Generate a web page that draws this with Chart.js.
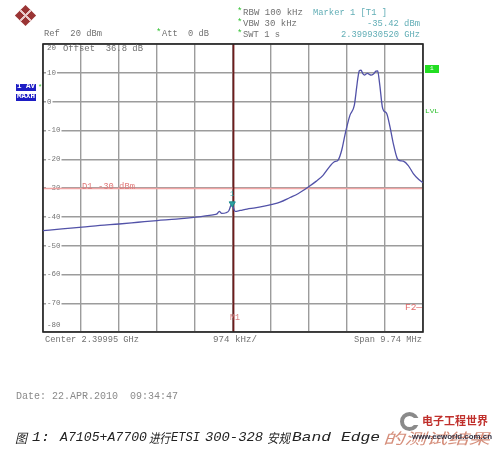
<!DOCTYPE html>
<html><head><meta charset="utf-8">
<script src="https://cdn.jsdelivr.net/npm/chart.js@4"></script>
<style>
html,body{margin:0;padding:0;background:#fff;}
#wrap{position:relative;width:500px;height:454px;overflow:hidden;background:#fff;}
#c{position:absolute;left:0;top:0;}
.t{position:absolute;white-space:pre;font-family:"Liberation Mono",monospace;font-size:9px;line-height:1;color:#707070;transform-origin:0 50%;}
.cj{font-family:"Noto Sans CJK SC",sans-serif;font-style:italic;color:#222;}
.it{font-family:"Liberation Mono",monospace;font-style:italic;color:#222;}
</style></head><body>
<div id="wrap"><canvas id="c" width="500" height="454"></canvas></div>
<script>
// ---- data ----
const freqOffsetKHz = [-4870,-4383,-3870,-3409,-2922,-2435,-1948,-1461,-948,-513,-410,-351,-290,-179,-103,-59,-19,8,51,179,359,564,769,999,1205,1461,1666,1948,2128,2307,2486,2589,2699,2786,2845,2896,2999,3109,3171,3204,3238,3281,3332,3371,3409,3453,3499,3537,3601,3665,3709,3742,3768,3827,3870,3939,4024,4109,4211,4280,4365,4493,4622,4742,4870];
const levelDBm = [-44.8,-44.2,-43.6,-43.0,-42.5,-41.9,-41.3,-40.8,-40.1,-39.3,-39.0,-38.1,-38.8,-38.6,-37.8,-36.2,-35.4,-36.7,-38.1,-37.8,-37.3,-36.9,-36.4,-35.7,-34.9,-33.3,-32.0,-29.5,-27.7,-25.6,-22.4,-21.0,-20.2,-16.9,-13.2,-10.0,-4.7,-1.3,5.1,8.5,10.7,10.9,9.6,9.2,9.6,9.8,9.4,9.2,9.6,10.6,10.7,8.0,5.1,-1.8,-3.3,-4.1,-8.8,-14.6,-19.8,-20.5,-20.7,-22.2,-25.0,-26.8,-28.2];
const yTickValues = [20,10,0,-10,-20,-30,-40,-50,-60,-70,-80];
const spanKHz = 9740;
const divKHz = 974;
const markerFreqKHz = [-19.48];
const markerLevel = [-35.42];
const displayLineD1 = -30;

const wrap = document.getElementById('wrap');
function put(txt, x, y, o) {
  o = o || {};
  const s = document.createElement('span');
  s.className = 't' + (o.cls ? ' ' + o.cls : '');
  s.textContent = txt;
  if (o.style) Object.assign(s.style, o.style);
  s.style.left = x + 'px'; s.style.top = y + 'px';
  wrap.appendChild(s);
  const r = s.getBoundingClientRect();
  s.style.top = (y - r.height / 2) + 'px';
  let sx = 1;
  if (o.w) sx = o.w / r.width;
  if (o.right) s.style.left = (x - (o.w || r.width)) + 'px';
  s.style.transform = 'scaleX(' + sx + ')';
  return s;
}
function box(x, y, w, h, style) {
  const d = document.createElement('div');
  d.style.position = 'absolute';
  d.style.left = x + 'px'; d.style.top = y + 'px';
  d.style.width = w + 'px'; d.style.height = h + 'px';
  Object.assign(d.style, style || {});
  wrap.appendChild(d);
  return d;
}

const overlay = {
  id: 'overlay',
  beforeDatasetsDraw(chart) {
    const {ctx, chartArea: a, scales: {x, y}} = chart;
    ctx.save();
    const yd = Math.round(y.getPixelForValue(displayLineD1)) + 0.5;
    ctx.strokeStyle = '#f0a4a4'; ctx.lineWidth = 1.5;
    ctx.beginPath(); ctx.moveTo(a.left, yd); ctx.lineTo(a.right, yd); ctx.stroke();
    const xm = Math.round(x.getPixelForValue(0)) + 0.5;
    ctx.strokeStyle = '#6e1c1c'; ctx.lineWidth = 1.8;
    ctx.beginPath(); ctx.moveTo(xm, a.top); ctx.lineTo(xm, a.bottom); ctx.stroke();
    ctx.strokeStyle = '#222'; ctx.lineWidth = 1.6;
    ctx.strokeRect(a.left, a.top, a.right - a.left, a.bottom - a.top);
    ctx.restore();
  }
};

new Chart(document.getElementById('c').getContext('2d'), {
  type: 'line',
  data: {
    datasets: [
      {
        label: 'Trace 1',
        data: freqOffsetKHz.map((f, i) => ({x: f, y: levelDBm[i]})),
        borderColor: '#5252a8', borderWidth: 1.3, pointRadius: 0,
        cubicInterpolationMode: 'monotone', fill: false, order: 2
      },
      {
        label: 'Marker 1',
        type: 'scatter',
        data: markerFreqKHz.map((f, i) => ({x: f, y: markerLevel[i]})),
        pointStyle: 'triangle', rotation: 180, pointRadius: 3.5,
        backgroundColor: '#2fa3a3', borderColor: '#1b8c8c', borderWidth: 1, order: 1
      }
    ]
  },
  options: {
    responsive: false, animation: false, devicePixelRatio: 1,
    layout: {padding: {left: 43, top: 44, right: 77, bottom: 122}},
    plugins: {legend: {display: false}, tooltip: {enabled: false}, title: {display: false}},
    scales: {
      x: {
        type: 'linear', min: -spanKHz / 2, max: spanKHz / 2,
        ticks: {stepSize: divKHz, display: false},
        grid: {color: '#9c9c9c', lineWidth: 1.4, drawTicks: false},
        border: {display: false},
        afterFit: s => { s.height = 0; }
      },
      y: {
        type: 'linear', min: -80, max: 20,
        afterBuildTicks: s => { s.ticks = yTickValues.map(v => ({value: v})); },
        ticks: {
          mirror: true, padding: 4,
          font: {family: 'Liberation Mono', size: 7.5}, color: '#777',
          showLabelBackdrop: true,
          backdropColor: c => (c.tick && (c.tick.value === 20 || c.tick.value === -80)) ? 'rgba(0,0,0,0)' : '#fff',
          backdropPadding: {x: 1, y: 0},
          callback: v => (v === 20 || v === -80) ? '' : String(v)
        },
        grid: {color: '#9c9c9c', lineWidth: 1.4, drawTicks: false},
        border: {display: false},
        afterFit: s => { s.width = 0; }
      }
    }
  },
  plugins: [overlay]
});

// ---- logo ----
box(18, 8, 15, 15, {background: '#9a3434', transform: 'rotate(45deg)',
  backgroundImage: 'linear-gradient(90deg, transparent 42%, #e8c8c8 42%, #e8c8c8 58%, transparent 58%), linear-gradient(0deg, transparent 42%, #e8c8c8 42%, #e8c8c8 58%, transparent 58%)'});

// ---- header ----
const green = '#2fc02f', teal = '#62aeb6';
put('Ref  20 dBm', 44, 34, {w: 58});
put('*', 156, 33, {style: {color: green}});
put('Att  0 dB', 162, 34, {w: 47});
put('*', 237, 12, {style: {color: green}});
put('*', 237, 23, {style: {color: green}});
put('*', 237, 34, {style: {color: green}});
put('RBW 100 kHz', 243, 13, {w: 60});
put('VBW 30 kHz', 243, 24, {w: 54});
put('SWT 1 s', 243, 35, {w: 37});
put('Marker 1 [T1 ]', 313, 13, {w: 74, style: {color: teal}});
put('-35.42 dBm', 420, 24, {w: 53, right: true, style: {color: teal}});
put('2.399930520 GHz', 420, 35, {w: 79, right: true, style: {color: teal}});

// ---- inside plot ----
put('20', 47, 49, {style: {fontSize: '7.5px'}});
put('Offset  36.8 dB', 63, 49, {w: 80});
put('-80', 47, 326, {style: {fontSize: '7.5px'}});
put('D1 -30 dBm', 82, 187, {w: 53, style: {color: '#e07a7a'}});
put('M1', 230, 318, {w: 10, style: {color: '#d88080'}});
put('1', 230, 194, {style: {color: '#2fa3a3', fontSize: '7px'}});
put('F2\u2014', 405, 308, {w: 17, style: {color: '#e06a6a'}});

// ---- side annotations ----
box(16, 84, 20, 7, {background: '#1d1dc4'});
put('1 AV', 17, 87.5, {w: 18, style: {color: '#fff', fontSize: '6.5px', fontWeight: 'bold'}});
put('*', 38, 87, {style: {color: green, fontSize: '7px'}});
box(16, 94, 20, 7, {background: '#1d1dc4'});
put('MAXH', 17, 97.5, {w: 18, style: {color: '#fff', fontSize: '6.5px', fontWeight: 'bold'}});
box(425, 65, 14, 8, {background: '#22dd22'});
put('1', 430, 69, {style: {color: '#fff', fontSize: '6px'}});
put('LVL', 425, 112, {w: 14, style: {color: green, fontSize: '6px'}});

// ---- bottom axis text ----
put('Center 2.39995 GHz', 45, 340, {w: 94});
put('974 kHz/', 213, 340, {w: 44});
put('Span 9.74 MHz', 422, 340, {w: 68, right: true});

// ---- date & caption ----
put('Date: 22.APR.2010  09:34:47', 16, 397, {w: 162, style: {fontSize: '10px', color: '#8a8a8a'}});
put('图', 15, 437, {cls: 'cj', w: 12, style: {fontSize: '13px'}});
put('1:', 32, 437, {cls: 'it', w: 18, style: {fontSize: '13px'}});
put('A7105+A7700', 60, 437, {cls: 'it', w: 87, style: {fontSize: '13px'}});
put('进行', 149, 437, {cls: 'cj', w: 21, style: {fontSize: '13px'}});
put('ETSI', 171, 437, {cls: 'it', w: 29, style: {fontSize: '13px'}});
put('300-328', 205, 437, {cls: 'it', w: 58, style: {fontSize: '13px'}});
put('安规', 267, 437, {cls: 'cj', w: 23, style: {fontSize: '13px'}});
put('Band Edge', 292, 437, {cls: 'it', w: 88, style: {fontSize: '13px'}});
put('的测试结果', 383, 437, {cls: 'cj', w: 107, style: {fontSize: '15px', color: '#c86a50', opacity: '0.75'}});

// ---- watermark ----
box(400, 412, 19, 19, {borderRadius: '50%', border: '4px solid #8a8a8a', boxSizing: 'border-box', background: '#fff'});
box(411, 418, 9, 7, {background: '#fff'});
put('电子工程世界', 422, 420, {w: 66, style: {fontFamily: '"Noto Sans CJK SC",sans-serif', fontSize: '11px', color: '#c0302c', fontWeight: 'bold'}});
put('www.eeworld.com.cn', 412, 437, {w: 80, style: {fontFamily: 'Arial,"Liberation Sans",sans-serif', fontSize: '8px', color: '#334', fontWeight: 'bold'}});
</script>
</body></html>
